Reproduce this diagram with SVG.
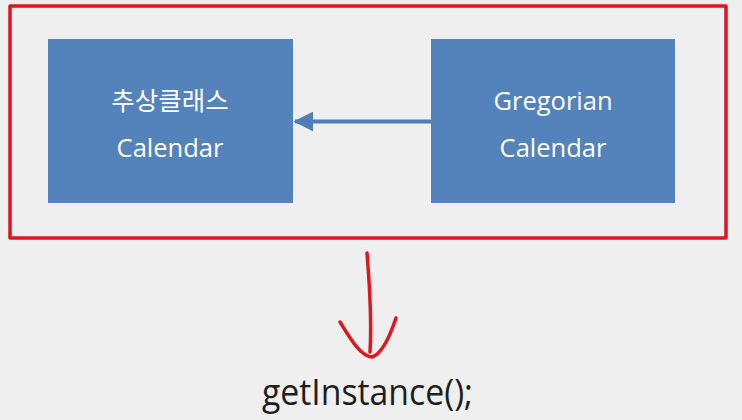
<svg xmlns="http://www.w3.org/2000/svg" width="742" height="420" viewBox="0 0 742 420">
<style>
.box{fill:#5482bb}
.lbl{font-family:"Open Sans","Noto Sans CJK KR",sans-serif;font-size:25.5px;fill:#ffffff;text-anchor:middle}
.conn{stroke:#4f7db8;stroke-width:4;fill:none}
.red{stroke:#e3141c;fill:none;stroke-linecap:round;stroke-linejoin:round}
</style>
<defs>
<marker id="ah" markerWidth="5" markerHeight="5" refX="4.6" refY="2.5" orient="auto" markerUnits="strokeWidth">
<path d="M0,0 L5,2.5 L0,5 z" fill="#4f7db8"/>
</marker>
</defs>
<rect x="0" y="0" width="742" height="420" fill="#efefef"/>
<rect class="red" x="10" y="6" width="716" height="232" stroke-width="3.5"/>
<g id="abstract-calendar">
<rect class="box" x="48" y="39" width="245" height="164"/>
<text class="lbl" x="170" y="110">추상클래스</text>
<text class="lbl" x="170" y="157">Calendar</text>
</g>
<g id="gregorian-calendar">
<rect class="box" x="431" y="39" width="244" height="164"/>
<text class="lbl" x="553" y="110">Gregorian</text>
<text class="lbl" x="553" y="157">Calendar</text>
</g>
<g id="connectors">
<line class="conn" x1="431" y1="121.5" x2="295" y2="121.5" marker-end="url(#ah)"/>
<path class="red" stroke-width="3.5" d="M367,253 C370,290 372,320 370,352"/>
<path class="red" stroke-width="3.5" d="M340,322 C350,338 360,356 372,357 C382,354 390,336 396,318"/>
</g>
<text x="262" y="405" font-family="Open Sans, sans-serif" font-size="37" fill="#1e1e1e" textLength="211" lengthAdjust="spacingAndGlyphs">getInstance();</text>
</svg>
